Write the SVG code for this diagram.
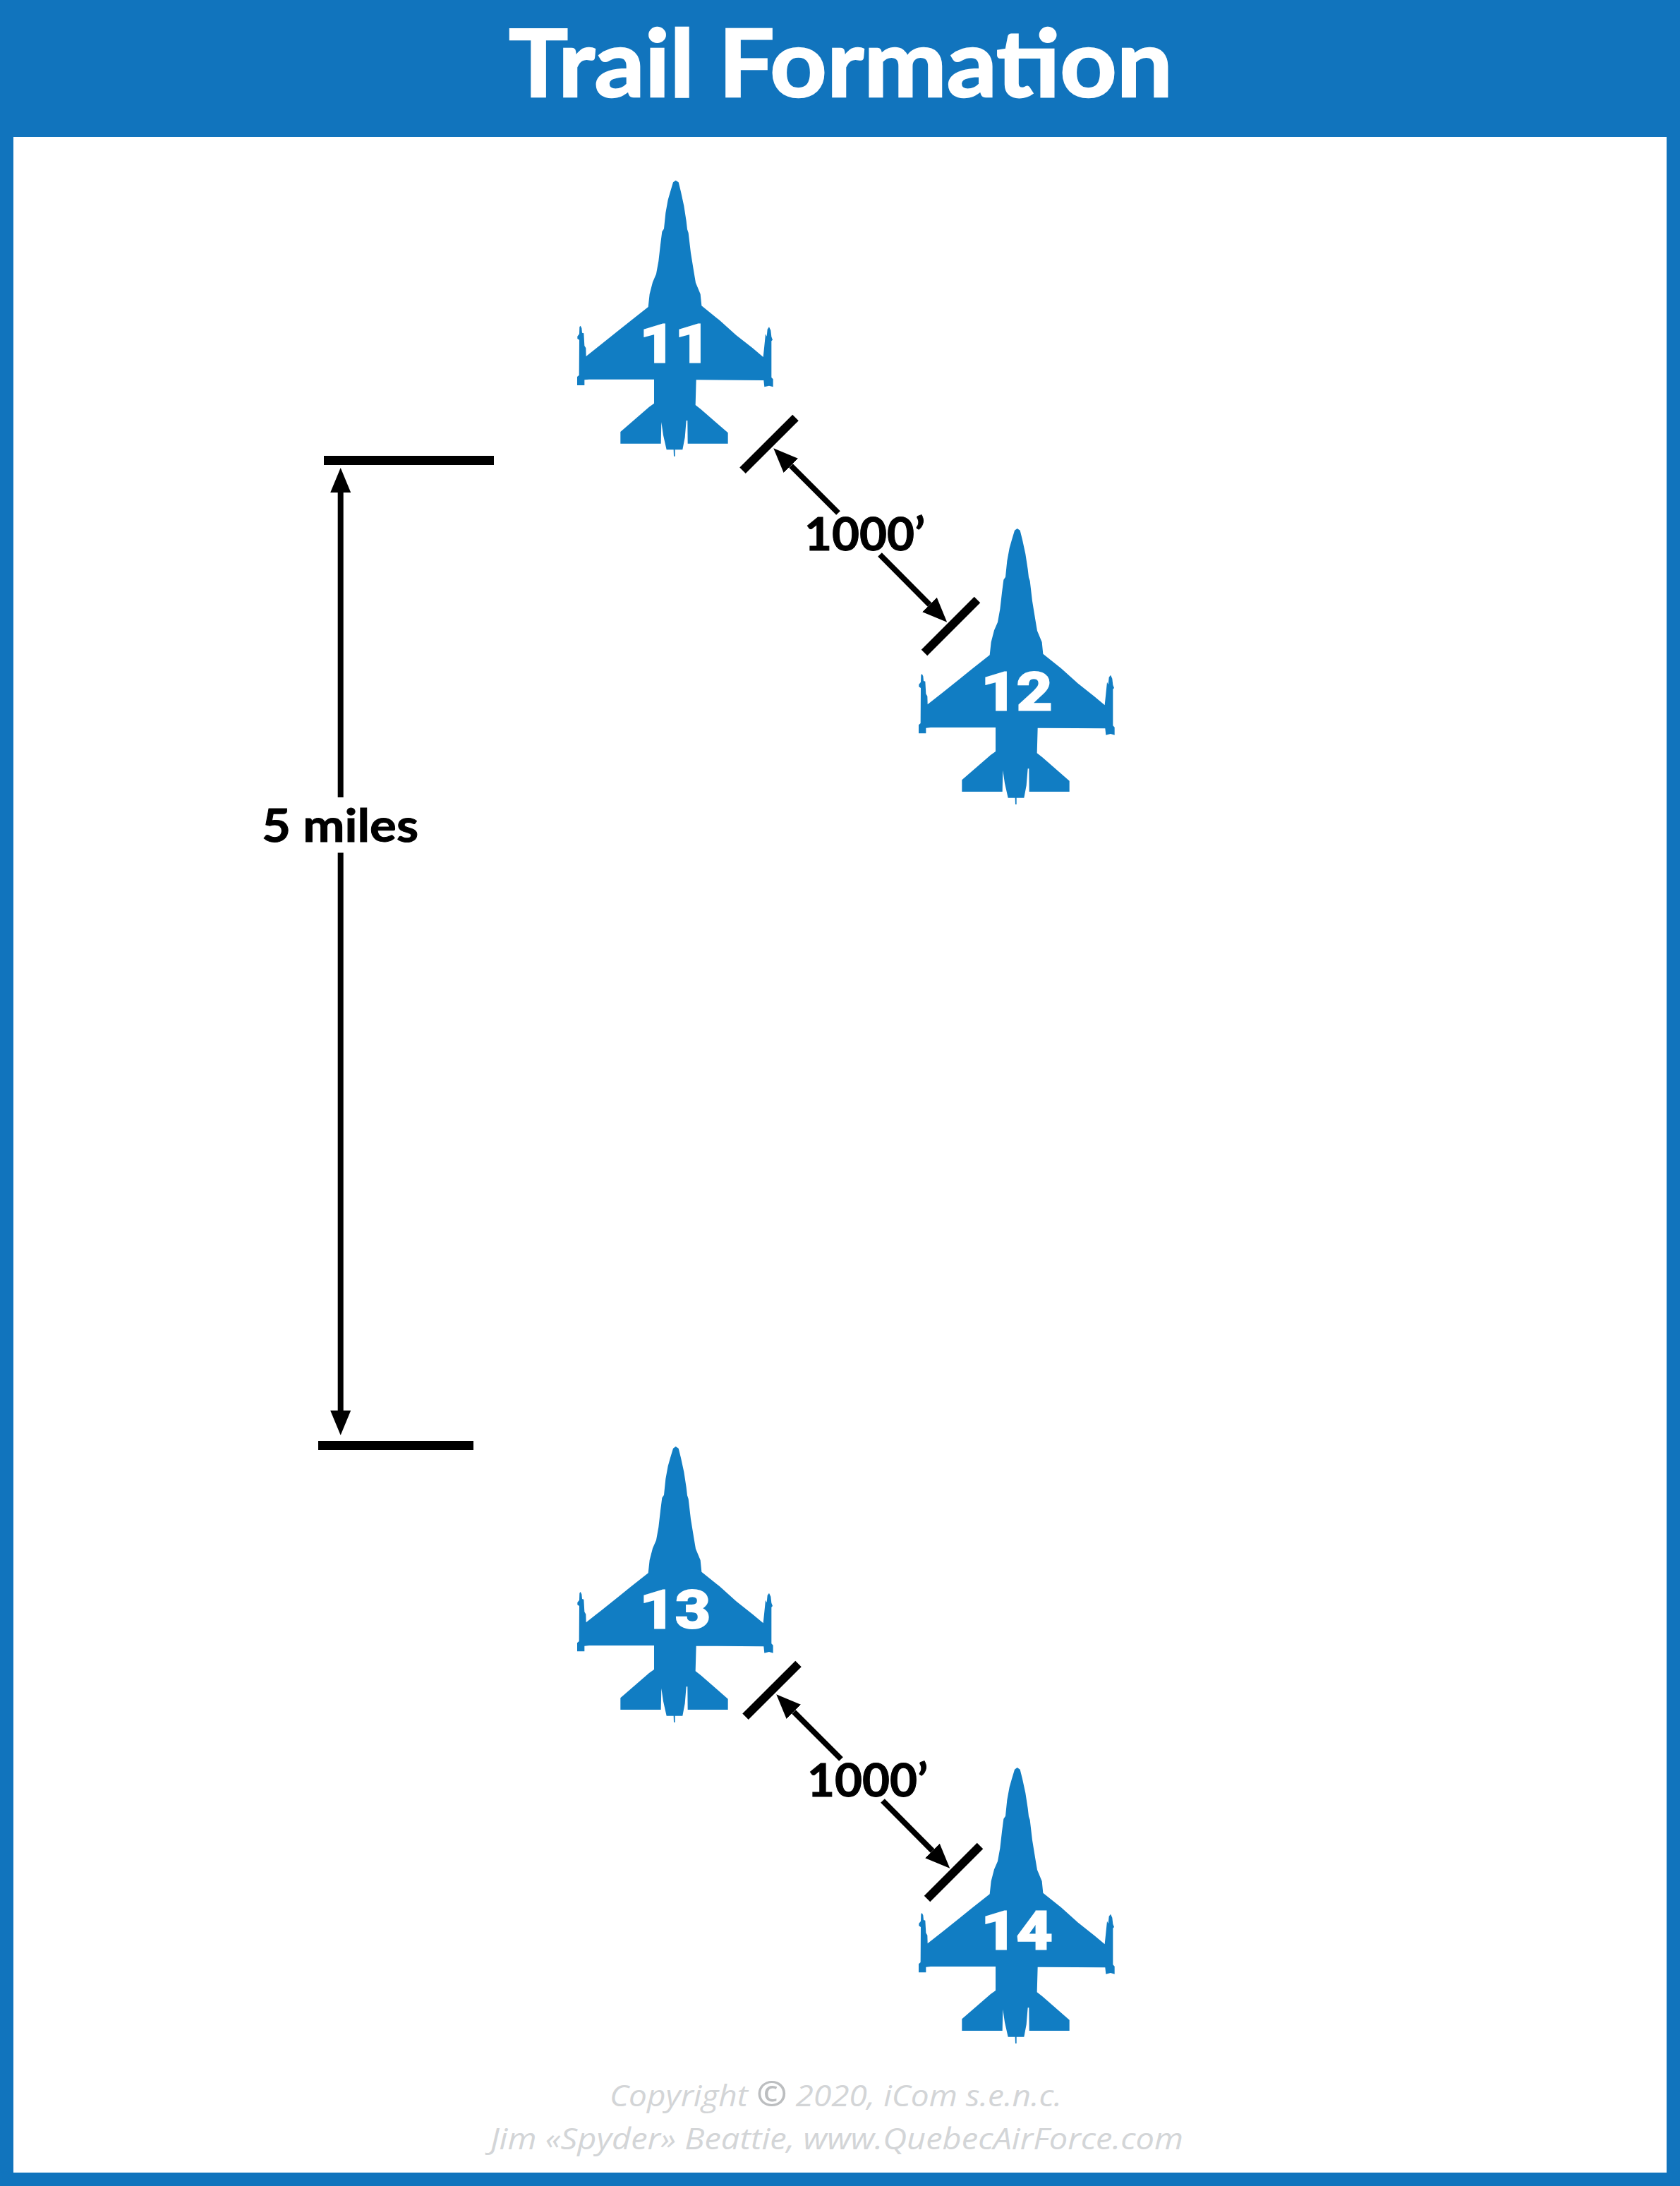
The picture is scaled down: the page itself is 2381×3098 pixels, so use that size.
<svg xmlns="http://www.w3.org/2000/svg" width="2381" height="3098" viewBox="0 0 2381 3098">
<style>
.frame{fill:#1174bd}
.jet{fill:#117dc3}
.num{font-family:Roboto,"Liberation Sans",sans-serif;font-weight:700;font-size:75px;fill:#fff;stroke:#fff;stroke-width:3}
.dim{font-family:Lato,"Liberation Sans",sans-serif;font-weight:700;font-size:65px;fill:#000;stroke:#000;stroke-width:1}
.tick{stroke:#000;stroke-width:12;fill:none}
.shaft{stroke:#000;stroke-width:8;fill:none;marker-end:url(#head)}
.copy{font-family:"Open Sans","Noto Sans",sans-serif;font-style:italic;font-size:42px;fill:#d3d5d7}
</style>
<defs>
<marker id="head" markerUnits="userSpaceOnUse" markerWidth="36" markerHeight="30" refX="0" refY="15" orient="auto"><path d="M0 0.5L35 15L0 29.5Z" fill="#000"/></marker>
<path id="jet" transform="translate(780 230) scale(.33333)" d="M533 77L545 85L555 125L568 185L578 250L582 285L587 300L597 385L610 465L618 512L638 560L643 610L720 672L790 735L860 790L905 828L910 780L915 730L920 740L923 710L930 700L937 715L940 742L945 755L940 760L940 915L947 922L947 955L930 950L910 955L907 927L620 925L617 1032L640 1050L755 1150L755 1196L584 1196L583 1098L578 1098L572 1170L562 1222L530 1222L530 1250L525 1250L524 1222L494 1222L480 1160L472 1105L470 1196L298 1196L298 1146L420 1040L441 1025L441 923L165 923L145 925L145 948L114 948L114 912L122 905L123 755L115 750L115 740L123 730L124 700L128 695L133 705L135 725L142 727L145 780L151 790L152 825L215 775L290 715L340 675L416 615L422 560L435 510L450 475L460 420L468 350L475 295L483 283L490 215L500 160L510 125L522 85Z"/>
</defs>
<rect width="2381" height="3098" fill="#fff"/>
<g id="frame">
<rect class="frame" x="0" y="0" width="2381" height="194"/>
<rect class="frame" x="0" y="0" width="19" height="3098"/>
<rect class="frame" x="2362" y="0" width="19" height="3098"/>
<rect class="frame" x="0" y="3079" width="2381" height="19"/>
</g>
<text id="title" x="721" y="137" font-family="Lato,'Liberation Sans',sans-serif" font-weight="700" font-size="132" fill="#fff" stroke="#fff" stroke-width="2.5" textLength="941" lengthAdjust="spacingAndGlyphs">Trail Formation</text>
<g id="connectors">
<g id="span-5-miles">
<rect x="459" y="646" width="241" height="13" fill="#000"/>
<rect x="451" y="2042" width="220" height="13" fill="#000"/>
<path class="shaft" d="M482.7 1130V698"/>
<path class="shaft" d="M482.7 1208.6V1999"/>
</g>
<g id="span-1000-top">
<path class="tick" d="M1127.5 592L1052.5 666.7"/>
<path class="tick" d="M1385 850L1310 925"/>
<path class="shaft" d="M1188 727L1121 660"/>
<path class="shaft" d="M1247 786L1317.5 857"/>
</g>
<g id="span-1000-bottom" transform="translate(4 1766)">
<path class="tick" d="M1127.5 592L1052.5 666.7"/>
<path class="tick" d="M1385 850L1310 925"/>
<path class="shaft" d="M1188 727L1121 660"/>
<path class="shaft" d="M1247 786L1317.5 857"/>
</g>
</g>
<text id="label-5-miles" class="dim" x="371" y="1193" textLength="222" lengthAdjust="spacingAndGlyphs">5 miles</text>
<text id="label-1000-top" class="dim" x="1140" y="780" textLength="171" lengthAdjust="spacingAndGlyphs">1000’</text>
<text id="label-1000-bottom" class="dim" x="1144" y="2546" textLength="171" lengthAdjust="spacingAndGlyphs">1000’</text>
<g id="jet-11"><use href="#jet" class="jet"/><text class="num" x="907" y="513" textLength="100" lengthAdjust="spacingAndGlyphs">11</text></g>
<g id="jet-12"><g transform="translate(484 493.3)"><use href="#jet" class="jet"/><text class="num" x="907" y="513" textLength="100" lengthAdjust="spacingAndGlyphs">12</text></g></g>
<g id="jet-13"><g transform="translate(0 1794.3)"><use href="#jet" class="jet"/><text class="num" x="907" y="513" textLength="100" lengthAdjust="spacingAndGlyphs">13</text></g></g>
<g id="jet-14"><g transform="translate(484 2249.3)"><use href="#jet" class="jet"/><text class="num" x="907" y="513" textLength="100" lengthAdjust="spacingAndGlyphs">14</text></g></g>
<text id="copyright-1" class="copy" x="864" y="2985" textLength="641" lengthAdjust="spacingAndGlyphs">Copyright <tspan font-weight="700" font-style="normal" fill="#bcbec0" font-size="48">©</tspan> 2020, iCom s.e.n.c.</text>
<text id="copyright-2" class="copy" x="695" y="3046" textLength="982" lengthAdjust="spacingAndGlyphs">Jim «Spyder» Beattie, www.QuebecAirForce.com</text>
</svg>
